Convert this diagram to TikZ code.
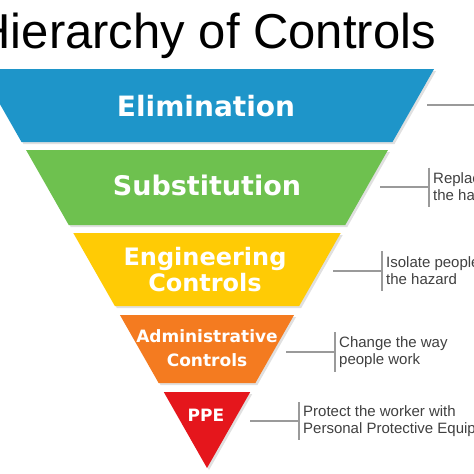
\documentclass[tikz,border=0pt]{standalone}
\usepackage{fontspec}
\setmainfont{Liberation Sans}
\newfontfamily\dejavu{DejaVu Sans}
\usetikzlibrary{positioning}

\definecolor{elimblue}{HTML}{1E95C9}
\definecolor{subgreen}{HTML}{6EC14F}
\definecolor{enggold}{HTML}{FFCB05}
\definecolor{adminorange}{HTML}{F47B20}
\definecolor{ppered}{HTML}{E5161C}
\definecolor{leadgray}{HTML}{9A9A9A}
\definecolor{desctext}{HTML}{404040}

\tikzset{
  band/.style 2 args={text=white, font=\dejavu\bfseries\fontsize{#1}{#2}\selectfont,
    align=center, anchor=base, inner sep=0pt},
  desc/.style={text=desctext, font=\fontsize{15}{17}\selectfont, align=left, inner sep=0pt},
  lead/.style={draw=leadgray, line width=1.2pt},
}

\begin{document}
\begin{tikzpicture}[x=1pt,y=-1pt]
    \useasboundingbox (0,0) rectangle (474,474);
    \clip (0,0) rectangle (474,474);
    \fill[white] (0,0) rectangle (474,474);
    % title
    \node[font=\fontsize{49}{55}\selectfont, anchor=base east, inner sep=0pt] (title) at (436,48) {Hierarchy of Controls};
    % the inverted pyramid
    \foreach \ytop/\ybot/\fillc in {69/142/elimblue,150/225/subgreen,233/306/enggold,315/383/adminorange}{
        \pgfmathsetmacro{\wt}{0.569*(468-\ytop)}
        \pgfmathsetmacro{\wb}{0.569*(468-\ybot)}
        \fill[black!12] (209-\wt,\ytop+2) -- (209+\wt,\ytop+2) -- (209+\wb,\ybot+2) -- (209-\wb,\ybot+2) -- cycle;
        \fill[\fillc] (207-\wt,\ytop) -- (207+\wt,\ytop) -- (207+\wb,\ybot) -- (207-\wb,\ybot) -- cycle;
    }
    \pgfmathsetmacro{\wr}{0.569*(468-392)}
    \fill[black!12] (209-\wr,394) -- (209+\wr,394) -- (209,470) -- cycle;
    \fill[ppered] (207-\wr,392) -- (207+\wr,392) -- (207,468) -- cycle;
    % labels in the bands (base = last line)
    \node[band={28}{30}] (elim) at (206,116) {Elimination};
    \node[band={27}{30}] (subst) at (207,195) {Substitution};
    \node[band={24}{26}] (engin) at (205,291) {Engineering\\Controls};
    \node[band={17}{24}] (admin) at (207,366.5) {Administrative\\Controls};
    \node[band={17}{20}] (ppe) at (206,421.5) {PPE};
    % leads and notes
    \coordinate (lelim) at (427,105);
    \coordinate (belim) at (476,105);
    \draw[lead] (lelim) -- (belim);

    \coordinate (lsubst) at (380,187);
    \coordinate (bsubst) at (429,187);
    \draw[lead] (lsubst) -- (bsubst);
    \draw[lead] ([yshift=19.5pt]bsubst) -- ([yshift=-19.5pt]bsubst);
    \node[desc, right=4pt of bsubst] (dsubst) {Replace\\the hazard};

    \coordinate (lengin) at (333,271);
    \coordinate (bengin) at (382,271);
    \draw[lead] (lengin) -- (bengin);
    \draw[lead] ([yshift=20pt]bengin) -- ([yshift=-20pt]bengin);
    \node[desc, right=4pt of bengin] (dengin) {Isolate people from\\the hazard};

    \coordinate (ladmin) at (286,352);
    \coordinate (badmin) at (335,352);
    \draw[lead] (ladmin) -- (badmin);
    \draw[lead] ([yshift=20pt]badmin) -- ([yshift=-20pt]badmin);
    \node[desc, right=4pt of badmin] (dadmin) {Change the way\\people work};

    \coordinate (lppe) at (250,421);
    \coordinate (bppe) at (299,421);
    \draw[lead] (lppe) -- (bppe);
    \draw[lead] ([yshift=19pt]bppe) -- ([yshift=-19pt]bppe);
    \node[desc, right=4pt of bppe] (dppe) {Protect the worker with\\Personal Protective Equipment};
\end{tikzpicture}
\end{document}
